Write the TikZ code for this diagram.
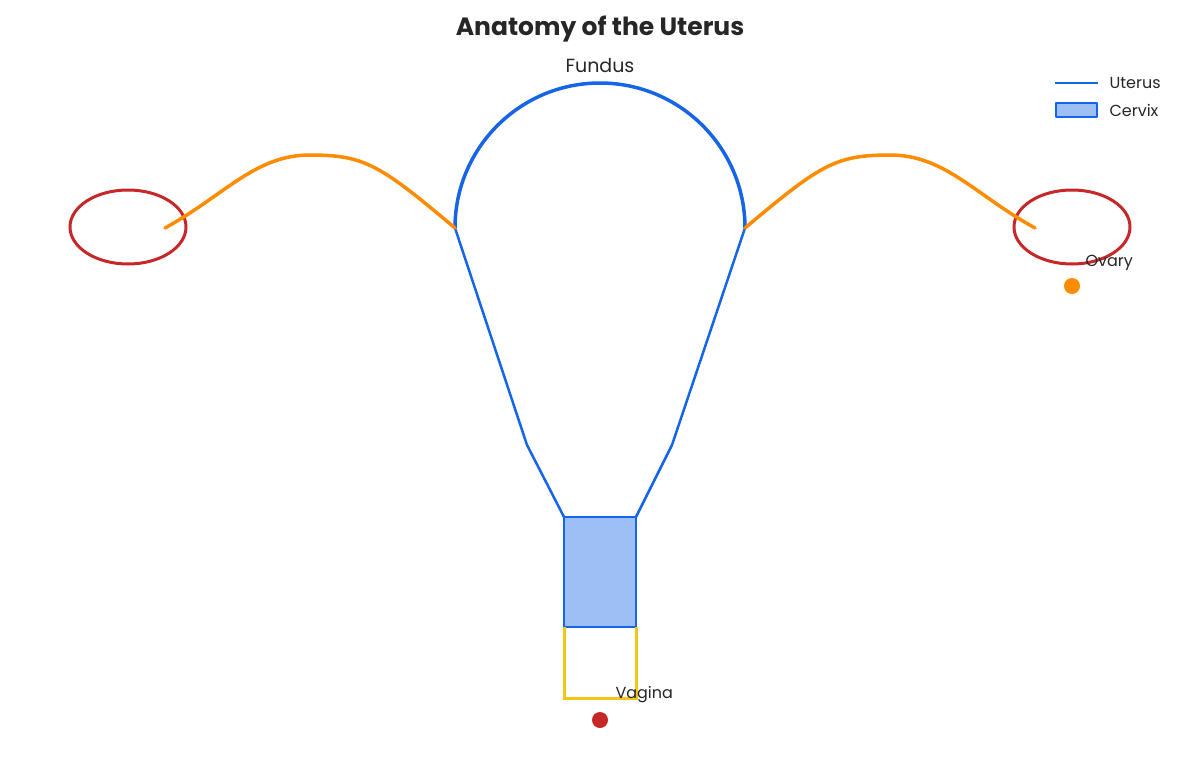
\documentclass[tikz,border=0pt]{standalone}
\usepackage{fontspec}
\setmainfont{Poppins}
\usetikzlibrary{shapes.geometric}
\definecolor{uterusblue}{HTML}{1565E6}
\definecolor{cervixfill}{HTML}{9DBFF5}
\definecolor{tubeorange}{HTML}{FF8C00}
\definecolor{ovaryred}{HTML}{C62828}
\definecolor{vaginayellow}{HTML}{F5C518}
\tikzset{
  uterusline/.style={uterusblue, line width=2.5pt, line join=round},
  tubeline/.style={tubeorange, line width=3.5pt, line cap=round},
  ovaryline/.style={ovaryred, line width=3pt},
  labeltext/.style={font=\fontsize{16}{18}\selectfont, text=black!85},
}
\begin{document}
\begin{tikzpicture}[x=1pt, y=-1pt]
    \useasboundingbox (0,0) rectangle (1200,763);

    % Title
    \node[font=\bfseries\fontsize{25}{28}\selectfont, text=black!85] (title) at (600,29) {Anatomy of the Uterus};
    \node[labeltext, font=\fontsize{19}{21}\selectfont] (fundus) at (600,66) {Fundus};

    \coordinate (lefttop) at (455,228);
    \coordinate (righttop) at (745,228);
    \coordinate (leftmid) at (527,445);
    \coordinate (rightmid) at (672,445);
    \coordinate (cervixtl) at (564,517);
    \coordinate (cervixtr) at (636,517);
    \coordinate (cervixbl) at (564,627);
    \coordinate (cervixbr) at (636,627);
    \coordinate (vaginabl) at (564,698);
    \coordinate (vaginabr) at (636,698);

    % Body of the uterus
    \draw[uterusline, line width=3.5pt] (lefttop) arc[start angle=180, end angle=360, radius=145];
    \draw[uterusline] (lefttop) -- (leftmid) -- (cervixtl);
    \draw[uterusline] (righttop) -- (rightmid) -- (cervixtr);

    % Cervix and vagina
    \filldraw[uterusline, fill=cervixfill] (cervixtl) rectangle (cervixbr);
    \draw[vaginayellow, line width=3pt] (cervixbl) -- (vaginabl) -- (vaginabr) -- (cervixbr);
    \node[labeltext, anchor=west] (vagina) at (612,695) {Vagina};
    \fill[ovaryred] (600,720) circle (8);

    % Ovaries and tubes
    \node[ovaryline, draw, ellipse, minimum width=116, minimum height=74, inner sep=0] (leftovary) at (128,227) {};
    \node[ovaryline, draw, ellipse, minimum width=116, minimum height=74, inner sep=0] (rightovary) at (1072,227) {};
    \coordinate (leftend) at (165,228);
    \coordinate (rightend) at (1035,228);
    \draw[tubeline] (lefttop) .. controls (380,165) and (365,155) .. (310,155)
        .. controls (255,155) and (225,195) .. (leftend);
    \draw[tubeline] (righttop) .. controls (820,165) and (835,155) .. (890,155)
        .. controls (945,155) and (975,195) .. (rightend);
    \node[labeltext, anchor=west] (ovary) at (1082,263) {Ovary};
    \fill[tubeorange] (1072,286) circle (8);

    % Legend
    \draw[uterusline] (1055,83) -- (1098,83);
    \node[labeltext, anchor=west] (leguterus) at (1106,83) {Uterus};
    \filldraw[uterusline, line width=2pt, fill=cervixfill] (1056,103) rectangle (1097,117);
    \node[labeltext, anchor=west] (legcervix) at (1106,110) {Cervix};
\end{tikzpicture}
\end{document}
